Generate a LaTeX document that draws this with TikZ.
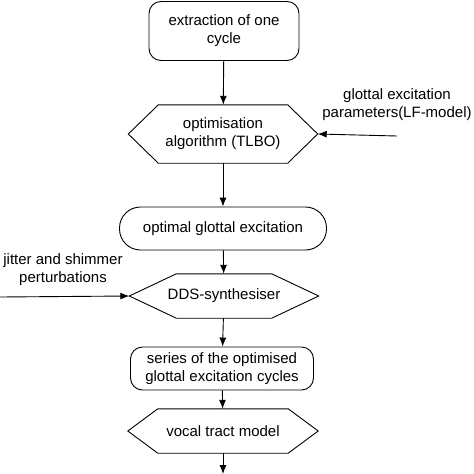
\documentclass[tikz,border=0pt]{standalone}
\usepackage{fontspec}
\setmainfont{Liberation Sans}
\usetikzlibrary{arrows.meta}

% hexagon round a plain node: name, length of the point
\newcommand{\hexround}[2]{%
  \draw[line width=0.9pt] (#1.west) -- ([xshift=#2]#1.north west) -- ([xshift=-#2]#1.north east)
    -- (#1.east) -- ([xshift=-#2]#1.south east) -- ([xshift=#2]#1.south west) -- cycle;}

\begin{document}
\begin{tikzpicture}[x=1pt, y=-1pt,
    every node/.style={font=\fontsize{15}{18}\selectfont, align=center, inner sep=0pt},
    roundbox/.style={draw, line width=0.9pt, rounded corners=12pt},
    hexbox/.style={rectangle},
    flow/.style={-{Latex[length=9pt,width=7pt]}, line width=0.9pt}]
            \useasboundingbox (0,0) rectangle (474,474);

            \node[roundbox, minimum width=150pt, minimum height=59pt] (ext) at (224, 31) {extraction of one\\cycle};
            \node[hexbox, minimum width=189pt, minimum height=58pt] (opt) at (223, 134) {optimisation\\algorithm (TLBO)};
            \node[roundbox, rounded corners=21pt, minimum width=207pt, minimum height=43pt] (ogx) at (223, 228.5) {optimal glottal excitation};
            \node[hexbox, minimum width=189pt, minimum height=44pt] (dds) at (224, 296) {DDS-synthesiser};
            \node[roundbox, minimum width=183pt, minimum height=43pt] (ser) at (222, 368.5) {series of the optimised\\glottal excitation cycles};
            \node[hexbox, minimum width=190pt, minimum height=44pt] (voc) at (223, 431) {vocal tract model};

            \hexround{opt}{30pt}
            \hexround{dds}{47pt}
            \hexround{voc}{30pt}

            \node (lfp) at (397, 105) {glottal excitation\\parameters(LF-model)};
            \node (jit) at (63, 270) {jitter and shimmer\\perturbations};

            \coordinate (lfin) at (397, 136);
            \coordinate (jitin) at (0, 297);
            \coordinate (out) at (223, 474);

            \draw[flow] (ext) -- (opt);
            \draw[flow] (opt) -- (ogx);
            \draw[flow] (ogx) -- (dds);
            \draw[flow] (dds) -- (ser);
            \draw[flow] (ser) -- (voc);
            \draw[flow] (voc) -- (out);
            \draw[flow] (lfin) -- (opt.east);
            \draw[flow] (jitin) -- (dds.west);
        \end{tikzpicture}
\end{document}
